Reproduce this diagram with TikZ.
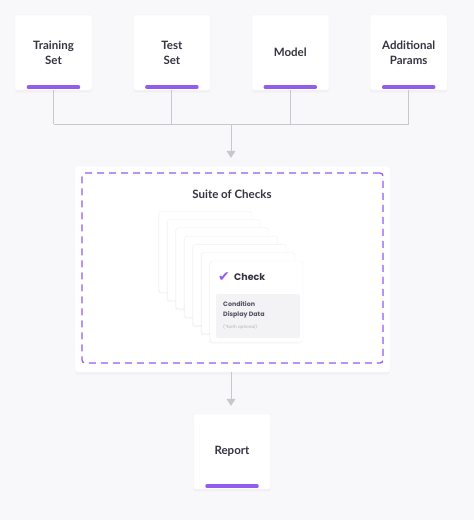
\documentclass[tikz,border=0pt]{standalone}
\usepackage{fontspec}
\setmainfont{Lato}
\newfontfamily\cardfont{Poppins}
\newfontfamily\symfont{DejaVu Sans}
\usetikzlibrary{arrows.meta,positioning,shadows}
\tikzset{>=Triangle}

\definecolor{pagebg}{RGB}{248,248,250}
\definecolor{ink}{RGB}{52,52,66}
\definecolor{accent}{RGB}{146,92,236}
\definecolor{wire}{RGB}{200,200,204}
\definecolor{panel}{RGB}{243,243,246}

\begin{document}
\begin{tikzpicture}[
    x=1pt, y=-1pt,
    node distance=41pt,
    inbox/.style={fill=white, draw=black!4, rounded corners=2pt, minimum width=77pt, minimum height=75pt,
                  inner sep=0pt, font=\bfseries\fontsize{11.5}{15}\selectfont, text=ink, align=center,
                  drop shadow={shadow xshift=0pt, shadow yshift=-2.5pt, opacity=0.05}},
    card/.style={fill=white, draw=black!6, rounded corners=2.5pt, minimum width=93pt, minimum height=81pt,
                 inner sep=0pt,
                 drop shadow={shadow xshift=-1pt, shadow yshift=-1.5pt, opacity=0.06}},
    bar/.style={accent, line width=3.5pt, line cap=round},
    conn/.style={wire, line width=1pt},
    arr/.style={conn, ->, shorten >=8pt, >={Triangle[length=7pt,width=9pt]}}
  ]
    \useasboundingbox[fill=pagebg] (0,0) rectangle (474,520);

    % inputs
    \node[inbox] (train) at (53.5,52.5) {Training\\Set};
    \node[inbox, right=of train] (test) {Test\\Set};
    \node[inbox, right=of test] (model) {Model};
    \node[inbox, right=of model] (params) {Additional\\Params};

    % suite
    \node[inbox, minimum width=315pt, minimum height=206pt] (suite) at (232.5,269) {};
    \node[draw=accent, line width=1.3pt, dash pattern=on 7pt off 5pt, rounded corners=3pt,
          minimum width=301pt, minimum height=190pt] (frame) at (232.5,268) {};
    \node[font=\bfseries\fontsize{11.5}{13}\selectfont, text=ink] (title) at (232,194) {Suite of Checks};

    \foreach \i in {6,...,1}
      \node[card] (card\i) at ({256.5-\i*8.5},{301.5-\i*8.3}) {};
    \node[card] (check) at (256.5,301.5) {};
    \node[fill=panel, rounded corners=2pt, minimum width=84pt, minimum height=44pt] (pane) at (258,316) {};
    \node[anchor=west, inner sep=0pt, text=accent, font=\symfont\fontsize{14}{14}\selectfont] (tick) at (218,277) {✔};
    \node[anchor=west, inner sep=0pt, text=ink, font=\cardfont\bfseries\fontsize{9.5}{11}\selectfont] (checklbl) at (234,277.5) {Check};
    \node[anchor=north west, inner sep=0pt, text=ink!85, align=left,
          font=\cardfont\bfseries\fontsize{6.3}{10.5}\selectfont] (cond) at (223,301) {Condition\\Display Data};
    \node[anchor=west, inner sep=0pt, text=black!30, font=\cardfont\fontsize{4.2}{5}\selectfont] (opt) at (223,327) {(*both optional)};

    % output
    \node[inbox] (report) at (232,451.5) {Report};

    % purple bars
    \foreach \n in {train,test,model,params,report}
      \draw[bar] ([xshift=-25pt,yshift=3pt]\n.south) -- ([xshift=25pt,yshift=3pt]\n.south);

    % connectors
    \coordinate (bus) at (231,124);
    \foreach \n in {train,test,model,params}
      \draw[conn] (\n.south) -- (\n.south |- bus);
    \draw[conn] (train.south |- bus) -- (params.south |- bus);
    \draw[arr] (bus) -- (bus |- suite.north);
    \draw[arr] (suite.south -| bus) -- (report.north -| bus);
  \end{tikzpicture}
\end{document}
